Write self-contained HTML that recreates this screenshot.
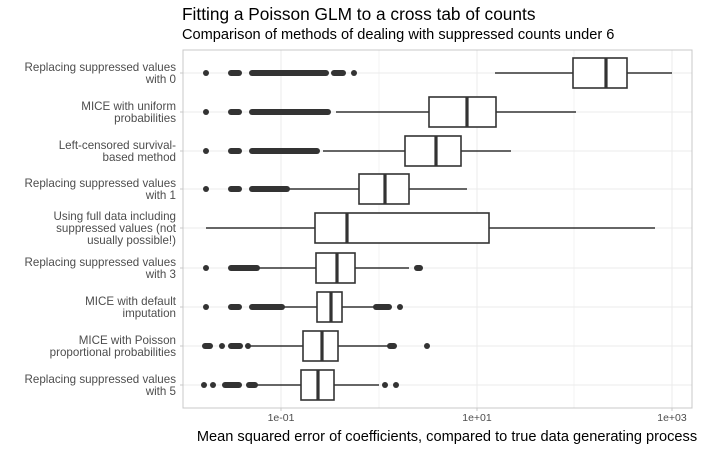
<!DOCTYPE html>
<html><head><style>
html,body{margin:0;padding:0;background:#fff;}
svg{display:block;font-family:"Liberation Sans",sans-serif;}
</style></head><body>
<svg width="720" height="450" viewBox="0 0 720 450" xmlns="http://www.w3.org/2000/svg">
<text x="182" y="20" font-size="17.3" fill="#000">Fitting a Poisson GLM to a cross tab of counts</text>
<text x="182" y="39" font-size="14.6" fill="#000">Comparison of methods of dealing with suppressed counts under 6</text>
<g stroke="#ebebeb" stroke-width="1">
<line x1="281" y1="50" x2="281" y2="408"/><line x1="379" y1="50" x2="379" y2="408" stroke-width="0.6"/>
<line x1="477" y1="50" x2="477" y2="408"/><line x1="574" y1="50" x2="574" y2="408" stroke-width="0.6"/>
<line x1="672" y1="50" x2="672" y2="408"/>
<line x1="183" y1="73" x2="692" y2="73"/><line x1="183" y1="112" x2="692" y2="112"/>
<line x1="183" y1="151" x2="692" y2="151"/><line x1="183" y1="189" x2="692" y2="189"/>
<line x1="183" y1="228" x2="692" y2="228"/><line x1="183" y1="268" x2="692" y2="268"/>
<line x1="183" y1="307" x2="692" y2="307"/><line x1="183" y1="346" x2="692" y2="346"/>
<line x1="183" y1="385" x2="692" y2="385"/>
</g>
<rect x="183" y="50" width="509" height="358" fill="none" stroke="#c8c8c8" stroke-width="1"/>
<g stroke="#c8c8c8"><line x1="180" y1="73" x2="183" y2="73"/><line x1="180" y1="112" x2="183" y2="112"/><line x1="180" y1="151" x2="183" y2="151"/><line x1="180" y1="189" x2="183" y2="189"/><line x1="180" y1="228" x2="183" y2="228"/><line x1="180" y1="268" x2="183" y2="268"/><line x1="180" y1="307" x2="183" y2="307"/><line x1="180" y1="346" x2="183" y2="346"/><line x1="180" y1="385" x2="183" y2="385"/>
<line x1="281" y1="408" x2="281" y2="411"/><line x1="477" y1="408" x2="477" y2="411"/><line x1="672" y1="408" x2="672" y2="411"/></g>

<g stroke="#333" stroke-width="6" stroke-linecap="round" fill="none">
<line x1="206" y1="73" x2="206" y2="73"/><line x1="231" y1="73" x2="239" y2="73"/><line x1="252" y1="73" x2="326" y2="73"/><line x1="334" y1="73" x2="343" y2="73"/><line x1="354" y1="73" x2="354" y2="73"/>
<line x1="206" y1="112" x2="206" y2="112"/><line x1="231" y1="112" x2="239" y2="112"/><line x1="252" y1="112" x2="328" y2="112"/>
<line x1="206" y1="151" x2="206" y2="151"/><line x1="231" y1="151" x2="239" y2="151"/><line x1="252" y1="151" x2="317" y2="151"/>
<line x1="206" y1="189" x2="206" y2="189"/><line x1="231" y1="189" x2="239" y2="189"/><line x1="252" y1="189" x2="287" y2="189"/>
<line x1="206" y1="268" x2="206" y2="268"/><line x1="231" y1="268" x2="257" y2="268"/><line x1="417" y1="268" x2="420" y2="268"/>
<line x1="206" y1="307" x2="206" y2="307"/><line x1="231" y1="307" x2="239" y2="307"/><line x1="252" y1="307" x2="282" y2="307"/><line x1="376" y1="307" x2="389" y2="307"/><line x1="400" y1="307" x2="400" y2="307"/>
<line x1="205" y1="346" x2="210" y2="346"/><line x1="222" y1="346" x2="222" y2="346"/><line x1="231" y1="346" x2="240" y2="346"/><line x1="248" y1="346" x2="248" y2="346"/><line x1="390" y1="346" x2="394" y2="346"/><line x1="427" y1="346" x2="427" y2="346"/>
<line x1="204" y1="385" x2="204" y2="385"/><line x1="213" y1="385" x2="213" y2="385"/><line x1="225" y1="385" x2="239" y2="385"/><line x1="249" y1="385" x2="255" y2="385"/><line x1="385" y1="385" x2="385" y2="385"/><line x1="396" y1="385" x2="396" y2="385"/>
</g>
<g stroke="#333" stroke-width="1.6">
<line x1="495" y1="73" x2="672" y2="73"/>
<line x1="336" y1="112" x2="576" y2="112"/>
<line x1="323" y1="151" x2="511" y2="151"/>
<line x1="288" y1="189" x2="467" y2="189"/>
<line x1="206" y1="228" x2="655" y2="228"/>
<line x1="257" y1="268" x2="409" y2="268"/>
<line x1="283" y1="307" x2="376" y2="307"/>
<line x1="248" y1="346" x2="390" y2="346"/>
<line x1="255" y1="385" x2="379" y2="385"/>
</g>
<g stroke="#333" stroke-width="1.6" fill="#fff">
<rect x="573" y="58" width="54" height="30"/>
<rect x="429" y="97" width="67" height="30"/>
<rect x="405" y="136" width="56" height="30"/>
<rect x="359" y="174" width="50" height="30"/>
<rect x="315" y="213" width="174" height="30"/>
<rect x="316" y="253" width="39" height="30"/>
<rect x="317" y="292" width="25" height="30"/>
<rect x="303" y="331" width="35" height="30"/>
<rect x="301" y="370" width="33" height="30"/>
</g>
<g stroke="#333" stroke-width="3.2">
<line x1="606" y1="58" x2="606" y2="88"/>
<line x1="467" y1="97" x2="467" y2="127"/>
<line x1="436" y1="136" x2="436" y2="166"/>
<line x1="385" y1="174" x2="385" y2="204"/>
<line x1="347" y1="213" x2="347" y2="243"/>
<line x1="337" y1="253" x2="337" y2="283"/>
<line x1="331" y1="292" x2="331" y2="322"/>
<line x1="322" y1="331" x2="322" y2="361"/>
<line x1="318" y1="370" x2="318" y2="400"/>
</g>

<g font-size="11.6" fill="#4d4d4d" text-anchor="end">
<text x="176" y="71">Replacing suppressed values</text><text x="176" y="83">with 0</text>
<text x="176" y="110">MICE with uniform</text><text x="176" y="122">probabilities</text>
<text x="176" y="149">Left-censored survival-</text><text x="176" y="161">based method</text>
<text x="176" y="187">Replacing suppressed values</text><text x="176" y="199">with 1</text>
<text x="176" y="220">Using full data including</text><text x="176" y="232">suppressed values (not</text><text x="176" y="244">usually possible!)</text>
<text x="176" y="266">Replacing suppressed values</text><text x="176" y="278">with 3</text>
<text x="176" y="305">MICE with default</text><text x="176" y="317">imputation</text>
<text x="176" y="344">MICE with Poisson</text><text x="176" y="356">proportional probabilities</text>
<text x="176" y="383">Replacing suppressed values</text><text x="176" y="395">with 5</text>
</g>
<g font-size="10.5" fill="#4d4d4d" text-anchor="middle">
<text x="281" y="421">1e-01</text><text x="477" y="421">1e+01</text><text x="672" y="421">1e+03</text>
</g>
<text x="447" y="441" font-size="14.6" fill="#000" text-anchor="middle">Mean squared error of coefficients, compared to true data generating process</text>
</svg>
</body></html>
